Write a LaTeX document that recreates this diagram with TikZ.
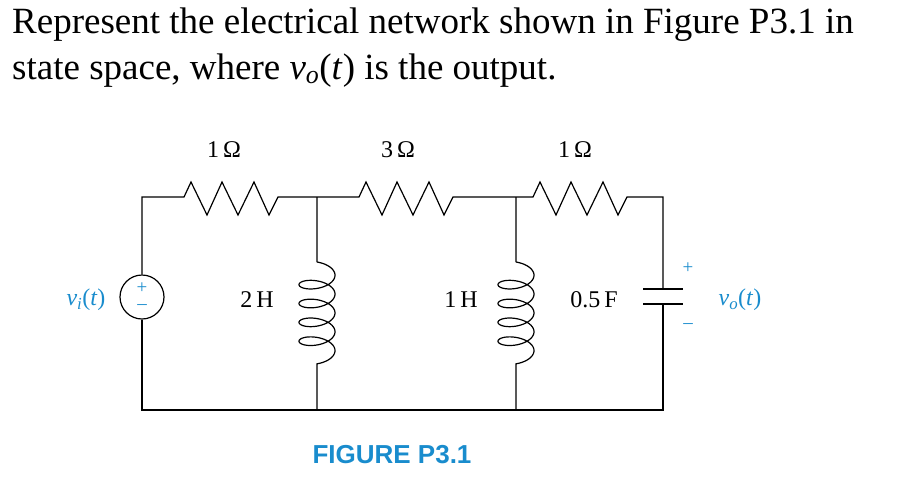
\documentclass[tikz,border=0pt]{standalone}
\usepackage{fontspec}
\setmainfont{Liberation Serif}
\newfontfamily\figfont{Liberation Sans}
\definecolor{cblue}{RGB}{25,140,205}
\begin{document}
\begin{tikzpicture}[x=1pt,y=-1pt,
  wire/.style={line width=1.2pt},
  lbl/.style={font=\fontsize{24}{26}\selectfont, inner sep=0pt},
  blbl/.style={lbl, text=cblue},
  sgn/.style={text=cblue, font=\fontsize{19}{19}\selectfont, inner sep=0pt}]
\useasboundingbox (0,0) rectangle (916,491);
\node[anchor=north west, align=left, inner sep=0pt, font=\fontsize{37}{46}\selectfont] (title) at (12,8) {Represent the electrical network shown in Figure P3.1 in\\ state space, where \textit{v}\textsubscript{\textit{o}}(\textit{t}) is the output.};
\coordinate (tl) at (142,197); \coordinate (bl) at (142,410);
\coordinate (n1) at (317,197); \coordinate (b1) at (317,410);
\coordinate (n2) at (516,197); \coordinate (b2) at (516,410);
\coordinate (tr) at (663,197); \coordinate (br) at (663,410);
\node[draw, wire, circle, minimum size=44pt, inner sep=0pt] (src) at (142,297) {};
\node[sgn] (sp) at (142,288) {+};
\node[sgn] (sm) at (142,307) {--};
\coordinate (r1a) at (184,197); \coordinate (r2a) at (359,197); \coordinate (r3a) at (533,197);
\draw[wire] (src.north) -- (tl) -- (r1a)
  -- ++(7,-15) -- ++(16,33) -- ++(15,-33) -- ++(16,33) -- ++(16,-33) -- ++(15,33) -- ++(9,-18) -- (n1) -- (r2a)
  -- ++(7,-15) -- ++(16,33) -- ++(15,-33) -- ++(16,33) -- ++(16,-33) -- ++(15,33) -- ++(9,-18) -- (n2) -- (r3a)
  -- ++(7,-15) -- ++(16,33) -- ++(15,-33) -- ++(16,33) -- ++(16,-33) -- ++(15,33) -- ++(9,-18) -- (tr) -- (663,289);
\coordinate (l1a) at (317,262); \coordinate (l1b) at (317,364);
\coordinate (l2a) at (516,262); \coordinate (l2b) at (516,364);
\draw[wire] (n1) -- (l1a) plot[domain=0:9*pi, samples=250, variable=\t] ({317+18*sin(\t r)}, {262+3*\t+8.5*(1-cos(\t r))}) -- (b1);
\draw[wire] (n2) -- (l2a) plot[domain=0:9*pi, samples=250, variable=\t] ({516+18*sin(\t r)}, {262+3*\t+8.5*(1-cos(\t r))}) -- (b2);
\coordinate (c2) at (663,304);
\draw[wire] (643,289) -- (683,289);
\draw[wire] (643,304) -- (683,304);
\draw[wire] (c2) -- (br) -- (bl) -- (src.south);
\node[lbl] (lr1) at (224,150) {1\,Ω};
\node[lbl] (lr2) at (398,150) {3\,Ω};
\node[lbl] (lr3) at (575,150) {1\,Ω};
\node[lbl] (ll1) at (257,300) {2\,H};
\node[lbl] (ll2) at (461,300) {1\,H};
\node[lbl] (lc) at (594,300) {0.5\,F};
\node[blbl] (vi) at (86,300) {\textit{v}\textsubscript{\textit{i}}(\textit{t})};
\node[blbl] (vo) at (740,300) {\textit{v}\textsubscript{\textit{o}}(\textit{t})};
\node[sgn] (cp) at (688,268) {+};
\node[sgn] (cm) at (688,326) {--};
\node[text=cblue, font=\figfont\bfseries\fontsize{26}{28}\selectfont] (fig) at (392,455) {FIGURE P3.1};
\end{tikzpicture}
\end{document}
